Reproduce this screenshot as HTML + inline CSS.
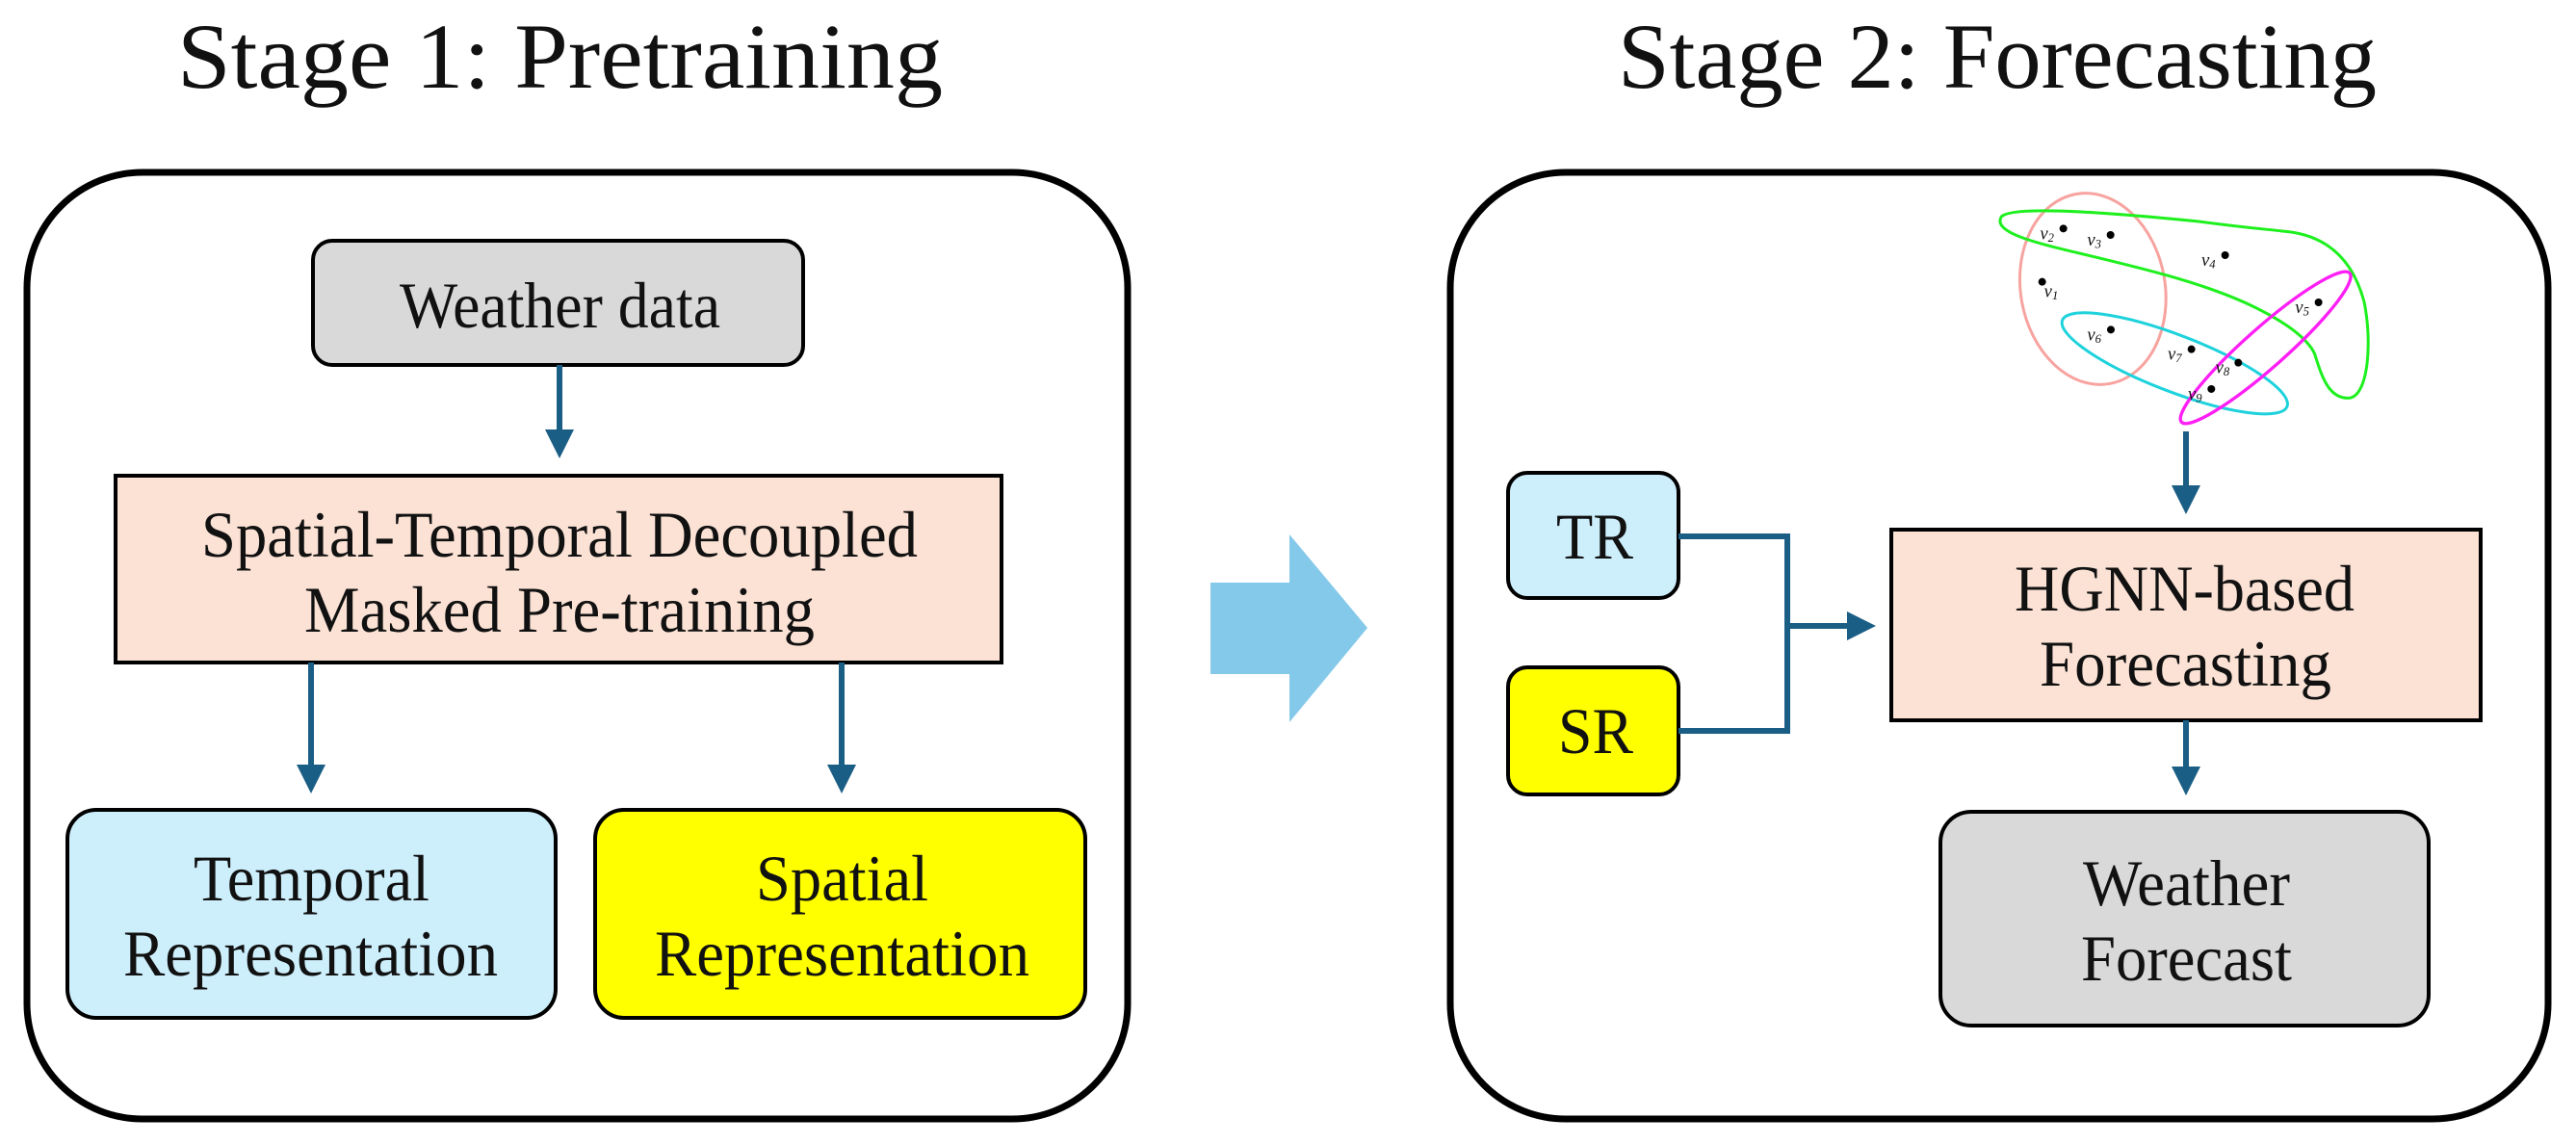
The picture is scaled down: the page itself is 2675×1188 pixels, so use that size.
<!DOCTYPE html>
<html><head><meta charset="utf-8"><style>
html,body{margin:0;padding:0;background:#fff;}
svg{display:block;}
text{font-family:"Liberation Serif","Times New Roman",serif;fill:#111;}
</style></head><body>
<svg width="2675" height="1188" viewBox="0 0 2675 1188" xmlns="http://www.w3.org/2000/svg">
<defs>
<marker id="ah" markerWidth="5" markerHeight="5" refX="4" refY="2.5" orient="auto" markerUnits="strokeWidth">
<path d="M0,0 L5,2.5 L0,5 z" fill="#1b5e85"/>
</marker>
</defs>
<!-- titles -->
<text x="184" y="91" font-size="96" textLength="795" lengthAdjust="spacingAndGlyphs">Stage 1:  Pretraining</text>
<text x="1680" y="91" font-size="96" textLength="788" lengthAdjust="spacingAndGlyphs">Stage 2: Forecasting</text>

<!-- frames -->
<rect x="28" y="179" width="1143" height="983" rx="120" fill="#fff" stroke="#000" stroke-width="7"/>
<rect x="1506" y="179" width="1140" height="983" rx="120" fill="#fff" stroke="#000" stroke-width="7"/>

<!-- stage 1 -->
<rect x="325" y="250" width="509" height="129" rx="20" fill="#d9d9d9" stroke="#000" stroke-width="4"/>
<text x="415" y="340" font-size="68" textLength="333" lengthAdjust="spacingAndGlyphs">Weather data</text>
<line x1="581" y1="379" x2="581" y2="470" stroke="#1b5e85" stroke-width="6" marker-end="url(#ah)"/>
<rect x="120" y="494" width="920" height="194" fill="#fbe2d5" stroke="#000" stroke-width="4"/>
<text x="209" y="578" font-size="68" textLength="744" lengthAdjust="spacingAndGlyphs">Spatial-Temporal Decoupled</text>
<text x="316" y="656" font-size="68" textLength="530" lengthAdjust="spacingAndGlyphs">Masked Pre-training</text>
<line x1="323" y1="688" x2="323" y2="818" stroke="#1b5e85" stroke-width="6" marker-end="url(#ah)"/>
<line x1="874" y1="688" x2="874" y2="818" stroke="#1b5e85" stroke-width="6" marker-end="url(#ah)"/>
<rect x="70" y="841" width="507" height="216" rx="30" fill="#cdeefb" stroke="#000" stroke-width="4"/>
<text x="201" y="935" font-size="68" textLength="245" lengthAdjust="spacingAndGlyphs">Temporal</text>
<text x="128" y="1013" font-size="68" textLength="389" lengthAdjust="spacingAndGlyphs">Representation</text>
<rect x="618" y="841" width="509" height="216" rx="30" fill="#ffff00" stroke="#000" stroke-width="4"/>
<text x="785" y="935" font-size="68" textLength="179" lengthAdjust="spacingAndGlyphs">Spatial</text>
<text x="680" y="1013" font-size="68" textLength="389" lengthAdjust="spacingAndGlyphs">Representation</text>

<!-- big arrow -->
<path d="M1257,605 L1339,605 L1339,555 L1420,652 L1339,750 L1339,700 L1257,700 z" fill="#85c9ea"/>

<!-- stage 2 -->
<rect x="1566" y="491" width="177" height="130" rx="20" fill="#cdeefb" stroke="#000" stroke-width="4"/>
<text x="1616" y="580" font-size="68" textLength="80" lengthAdjust="spacingAndGlyphs">TR</text>
<rect x="1566" y="693" width="177" height="132" rx="20" fill="#ffff00" stroke="#000" stroke-width="4"/>
<text x="1618" y="782" font-size="68" textLength="78" lengthAdjust="spacingAndGlyphs">SR</text>
<polyline points="1743,557 1856,557 1856,759 1743,759" fill="none" stroke="#1b5e85" stroke-width="6"/>
<line x1="1856" y1="650" x2="1942" y2="650" stroke="#1b5e85" stroke-width="6" marker-end="url(#ah)"/>
<rect x="1964" y="550" width="612" height="198" fill="#fbe2d5" stroke="#000" stroke-width="4"/>
<text x="2092" y="634" font-size="68" textLength="353" lengthAdjust="spacingAndGlyphs">HGNN-based</text>
<text x="2118" y="712" font-size="68" textLength="303" lengthAdjust="spacingAndGlyphs">Forecasting</text>
<line x1="2270" y1="448" x2="2270" y2="528" stroke="#1b5e85" stroke-width="6" marker-end="url(#ah)"/>
<line x1="2270" y1="748" x2="2270" y2="820" stroke="#1b5e85" stroke-width="6" marker-end="url(#ah)"/>
<rect x="2015" y="843" width="507" height="222" rx="32" fill="#d9d9d9" stroke="#000" stroke-width="4"/>
<text x="2163" y="940" font-size="68" textLength="215" lengthAdjust="spacingAndGlyphs">Weather</text>
<text x="2161" y="1018" font-size="68" textLength="219" lengthAdjust="spacingAndGlyphs">Forecast</text>

<!-- hypergraph -->
<g transform="translate(2050,180) scale(0.3333)">
<ellipse cx="370" cy="360" rx="225" ry="300" transform="rotate(-10 370 360)" fill="none" stroke="#f7a3a0" stroke-width="9"/>
<path d="M85,135 C120,100 400,120 700,150 C850,170 920,175 960,180 C1100,190 1180,270 1215,400 C1240,520 1230,690 1170,700 C1100,705 1080,620 1060,560 C1030,500 940,450 880,420 C700,330 450,280 250,230 C150,205 60,175 85,135 Z" fill="none" stroke="#1ef01e" stroke-width="9"/>
<ellipse cx="625" cy="592" rx="375" ry="88" transform="rotate(21 625 592)" fill="none" stroke="#1ed2dc" stroke-width="9"/>
<ellipse cx="908" cy="543" rx="350" ry="62" transform="rotate(-41.5 908 543)" fill="none" stroke="#ff1ef5" stroke-width="10"/>
<g fill="#000">
<circle cx="278" cy="172" r="12"/><circle cx="425" cy="192" r="12"/><circle cx="782" cy="255" r="12"/>
<circle cx="212" cy="338" r="12"/><circle cx="1073" cy="402" r="12"/><circle cx="426" cy="487" r="12"/>
<circle cx="677" cy="548" r="12"/><circle cx="823" cy="590" r="12"/><circle cx="739" cy="672" r="12"/>
</g>
<g font-size="56" font-style="italic" style="fill:#666">
<text x="205" y="205">v<tspan font-size="38" dy="8">2</tspan></text>
<text x="352" y="225">v<tspan font-size="38" dy="8">3</tspan></text>
<text x="708" y="288">v<tspan font-size="38" dy="8">4</tspan></text>
<text x="218" y="385">v<tspan font-size="38" dy="8">1</tspan></text>
<text x="1000" y="435">v<tspan font-size="38" dy="8">5</tspan></text>
<text x="352" y="520">v<tspan font-size="38" dy="8">6</tspan></text>
<text x="603" y="580">v<tspan font-size="38" dy="8">7</tspan></text>
<text x="752" y="622">v<tspan font-size="38" dy="8">8</tspan></text>
<text x="666" y="705">v<tspan font-size="38" dy="8">9</tspan></text>
</g>
</g>
</svg>
</body></html>
